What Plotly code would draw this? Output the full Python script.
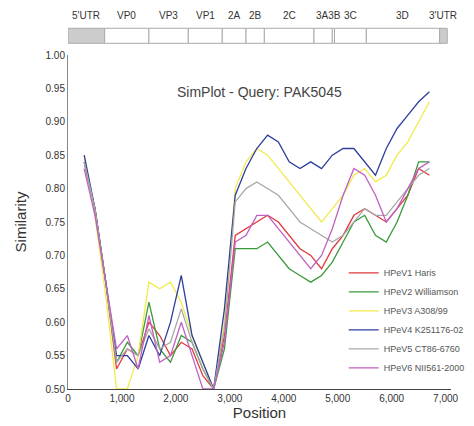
import plotly.graph_objects as go

positions = [300, 500, 700, 900, 1100, 1300, 1500, 1700, 1900, 2100, 2300, 2500, 2700, 2900, 3100,
             3300, 3500, 3700, 3900, 4100, 4300, 4500, 4700, 4900, 5100, 5300, 5500, 5700, 5900,
             6100, 6300, 6500, 6700]

hpev1 = [.84, .77, .66, .53, .56, .55, .60, .58, .55, .57, .56, .52, .50, .58, .73, .74, .75, .76, .75,
         .73, .71, .70, .68, .71, .73, .76, .77, .76, .75, .77, .79, .83, .82]
hpev2 = [.84, .77, .66, .54, .57, .55, .63, .56, .54, .58, .57, .53, .50, .56, .71, .71, .71, .72, .70,
         .68, .67, .66, .67, .69, .72, .75, .76, .73, .72, .75, .79, .84, .84]
hpev3 = [.85, .76, .64, .50, .50, .55, .66, .65, .66, .63, .58, .54, .50, .60, .80, .84, .86, .85, .83,
         .81, .79, .77, .75, .77, .79, .82, .83, .81, .82, .85, .87, .90, .93]
hpev4 = [.85, .77, .66, .55, .55, .53, .58, .55, .60, .67, .58, .54, .50, .62, .79, .83, .86, .88, .87,
         .84, .83, .84, .83, .85, .86, .86, .84, .82, .86, .89, .91, .93, .945]
hpev5 = [.84, .77, .66, .54, .56, .55, .59, .56, .57, .62, .57, .53, .50, .59, .78, .80, .81, .80, .79,
         .77, .75, .74, .73, .72, .73, .75, .77, .76, .76, .78, .80, .82, .83]
hpev6 = [.83, .76, .66, .56, .58, .53, .61, .54, .55, .60, .55, .50, .50, .57, .72, .73, .76, .76, .74,
         .72, .70, .68, .70, .74, .79, .83, .82, .79, .75, .77, .80, .83, .84]

names = ["HPeV1 Haris", "HPeV2 Williamson", "HPeV3 A308/99", "HPeV4 K251176-02",
         "HPeV5 CT86-6760", "HPeV6 NII561-2000"]
colors = ["#e0393e", "#3a9a3a", "#f2ea4a", "#2c3f9e", "#a8a8a8", "#c060c0"]

# genome map
regions = ["5'UTR", "VP0", "VP3", "VP1", "2A", "2B", "2C", "3A", "3B", "3C", "3D", "3'UTR"]
region_edges = [0, 680, 1500, 2230, 2860, 3300, 3640, 4560, 4900, 4940, 5530, 6890, 7030]

fig = go.Figure()
for name, ys, c in zip(names, [hpev1, hpev2, hpev3, hpev4, hpev5, hpev6], colors):
    fig.add_trace(go.Scatter(x=positions, y=ys, name=name, mode="lines",
                             line=dict(color=c, width=1.3)))

for i, reg in enumerate(regions):
    x0, x1 = region_edges[i], region_edges[i + 1]
    fill = "#cccccc" if "UTR" in reg else "white"
    fig.add_shape(type="rect", xref="x", yref="paper", x0=x0, x1=x1, y0=1.035, y1=1.08,
                  fillcolor=fill, line=dict(color="#aaaaaa", width=1))
labels = [("5'UTR", 340), ("VP0", 1090), ("VP3", 1860), ("VP1", 2540), ("2A", 3080), ("2B", 3470),
          ("2C", 4100), ("3A3B", 4830), ("3C", 5230), ("3D", 6200), ("3'UTR", 6960)]
for t, xp in labels:
    fig.add_annotation(x=xp, y=1.095, xref="x", yref="paper", text=t, showarrow=False,
                       yanchor="bottom", font=dict(size=10, color="#333"))

fig.add_annotation(x=0.5, y=0.92, xref="paper", yref="paper", text="SimPlot - Query: PAK5045",
                   showarrow=False, font=dict(size=14, color="#444"))

fig.update_layout(
    width=474, height=426,
    margin=dict(l=54, r=14, t=47, b=45),
    plot_bgcolor="white", paper_bgcolor="white",
    font=dict(family="Liberation Sans, Arial", color="#333"),
    xaxis=dict(range=[0, 7100], tickvals=[0, 1000, 2000, 3000, 4000, 5000, 6000, 7000],
               tickformat=",", showgrid=False, zeroline=False, showline=True, linecolor="#444",
               title=dict(text="Position", font=dict(size=15), standoff=4), tickfont=dict(size=10)),
    yaxis=dict(range=[0.5, 1.0], dtick=0.05, tickformat=".2f", showgrid=False, zeroline=False,
               showline=True, linecolor="#888", title=dict(text="Similarity", font=dict(size=15)),
               tickfont=dict(size=10)),
    legend=dict(x=0.72, y=0.02, xanchor="left", yanchor="bottom", bgcolor="rgba(255,255,255,0)",
                font=dict(size=9, color="#555"), tracegroupgap=0, itemwidth=30),
)

fig.write_html("out.html")
